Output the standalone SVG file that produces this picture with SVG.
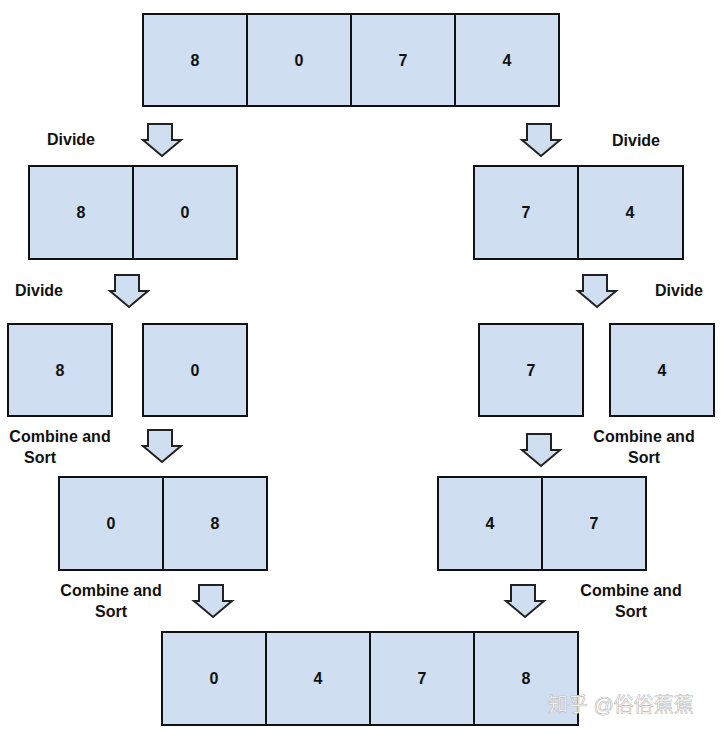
<svg xmlns="http://www.w3.org/2000/svg" width="723" height="736" viewBox="0 0 723 736">
<style>
.c{fill:#cfdef0;stroke:#111;stroke-width:2}
.t{font-family:"Liberation Sans",Arial,sans-serif;font-weight:bold;font-size:16px;fill:#111;text-anchor:middle}
.a{fill:#cfdef0;stroke:#222;stroke-width:2;stroke-linejoin:miter}
.w{font-family:"Liberation Sans","Noto Sans CJK SC",sans-serif;font-size:20px;fill:#fff;stroke:#bbb;stroke-width:0.6}
</style>
<defs>
<path id="arr" class="a" d="M-14,0 H10 V16 H19 L0,32 L-19,16 H-14 Z"/>
</defs>
<rect width="723" height="736" fill="#fff"/>
<g id="top">
<rect class="c" x="143" y="14" width="104" height="92"/><rect class="c" x="247" y="14" width="104" height="92"/><rect class="c" x="351" y="14" width="104" height="92"/><rect class="c" x="455" y="14" width="104" height="92"/>
<text class="t" x="195" y="66">8</text><text class="t" x="299" y="66">0</text><text class="t" x="403" y="66">7</text><text class="t" x="507" y="66">4</text>
</g>
<g id="l2">
<rect class="c" x="29" y="166" width="104" height="93"/><rect class="c" x="133" y="166" width="104" height="93"/>
<text class="t" x="81" y="218">8</text><text class="t" x="185" y="218">0</text>
</g>
<g id="r2">
<rect class="c" x="474" y="166" width="104" height="93"/><rect class="c" x="578" y="166" width="105" height="93"/>
<text class="t" x="526" y="218">7</text><text class="t" x="630" y="218">4</text>
</g>
<g id="l3a"><rect class="c" x="8" y="324" width="104" height="92"/><text class="t" x="60" y="376">8</text></g>
<g id="l3b"><rect class="c" x="143" y="324" width="104" height="92"/><text class="t" x="195" y="376">0</text></g>
<g id="r3a"><rect class="c" x="479" y="324" width="104" height="92"/><text class="t" x="531" y="376">7</text></g>
<g id="r3b"><rect class="c" x="610" y="324" width="104" height="92"/><text class="t" x="662" y="376">4</text></g>
<g id="l4">
<rect class="c" x="59" y="477" width="104" height="93"/><rect class="c" x="163" y="477" width="104" height="93"/>
<text class="t" x="111" y="529">0</text><text class="t" x="215" y="529">8</text>
</g>
<g id="r4">
<rect class="c" x="438" y="477" width="104" height="93"/><rect class="c" x="542" y="477" width="104" height="93"/>
<text class="t" x="490" y="529">4</text><text class="t" x="594" y="529">7</text>
</g>
<g id="bottom">
<rect class="c" x="162" y="632" width="104" height="93"/><rect class="c" x="266" y="632" width="104" height="93"/><rect class="c" x="370" y="632" width="104" height="93"/><rect class="c" x="474" y="632" width="104" height="93"/>
<text class="t" x="214" y="684">0</text><text class="t" x="318" y="684">4</text><text class="t" x="422" y="684">7</text><text class="t" x="526" y="684">8</text>
</g>
<g id="connectors">
<use href="#arr" x="162" y="124"/><use href="#arr" x="541" y="124"/>
<use href="#arr" x="129" y="275"/><use href="#arr" x="597" y="275"/>
<use href="#arr" x="162" y="430"/><use href="#arr" x="541" y="434"/>
<use href="#arr" x="213" y="585"/><use href="#arr" x="525" y="585"/>
<text class="t" x="71" y="145">Divide</text><text class="t" x="636" y="146">Divide</text>
<text class="t" x="39" y="296">Divide</text><text class="t" x="679" y="296">Divide</text>
<text class="t" x="60" y="442">Combine and</text><text class="t" x="40" y="463">Sort</text>
<text class="t" x="644" y="442">Combine and</text><text class="t" x="644" y="463">Sort</text>
<text class="t" x="111" y="596">Combine and</text><text class="t" x="111" y="617">Sort</text>
<text class="t" x="631" y="596">Combine and</text><text class="t" x="631" y="617">Sort</text>
</g>
<text class="w" x="548" y="712">知乎 @俗俗蕉蕉</text>
</svg>
